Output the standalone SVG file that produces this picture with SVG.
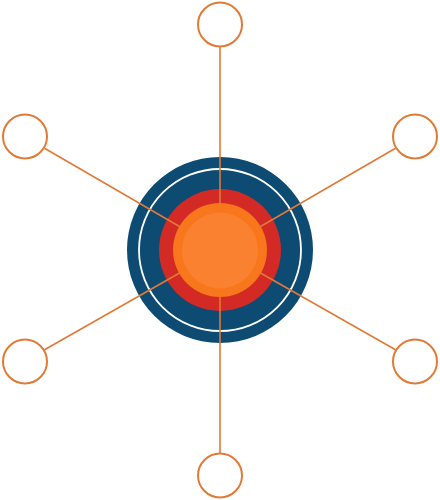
<svg xmlns="http://www.w3.org/2000/svg" width="440" height="500" viewBox="0 0 440 500">
<style>
.node{fill:#fff;stroke:#e07a36;stroke-width:2}
.conn line{stroke:#e07a36;stroke-width:1.6}
</style>
<rect width="440" height="500" fill="#fff"/>
<g id="core-back">
<circle cx="220" cy="250" r="93" fill="#0d4b73"/>
<circle cx="220" cy="250" r="81" fill="none" stroke="#fff" stroke-width="1.8"/>
<circle cx="220" cy="250" r="61" fill="#d32a26"/>
</g>
<g id="connectors" class="conn">
<line x1="220" y1="250" x2="220" y2="47"/>
<line x1="220" y1="250" x2="220" y2="453"/>
<line x1="220" y1="250" x2="44.5" y2="148.3"/>
<line x1="220" y1="250" x2="395.5" y2="148.3"/>
<line x1="220" y1="250" x2="44.5" y2="349.7"/>
<line x1="220" y1="250" x2="395.5" y2="349.7"/>
</g>
<g id="core-front">
<circle cx="220" cy="250" r="47" fill="#f8761c"/>
<circle cx="220" cy="250.5" r="38" fill="#fa8130"/>
</g>
<g id="node-top"><circle class="node" cx="220" cy="24.5" r="22"/></g>
<g id="node-bottom"><circle class="node" cx="220" cy="475.5" r="22"/></g>
<g id="node-top-left"><circle class="node" cx="25" cy="136.5" r="22"/></g>
<g id="node-top-right"><circle class="node" cx="415" cy="136.5" r="22"/></g>
<g id="node-bottom-left"><circle class="node" cx="25" cy="361.5" r="22"/></g>
<g id="node-bottom-right"><circle class="node" cx="415" cy="361.5" r="22"/></g>
</svg>
